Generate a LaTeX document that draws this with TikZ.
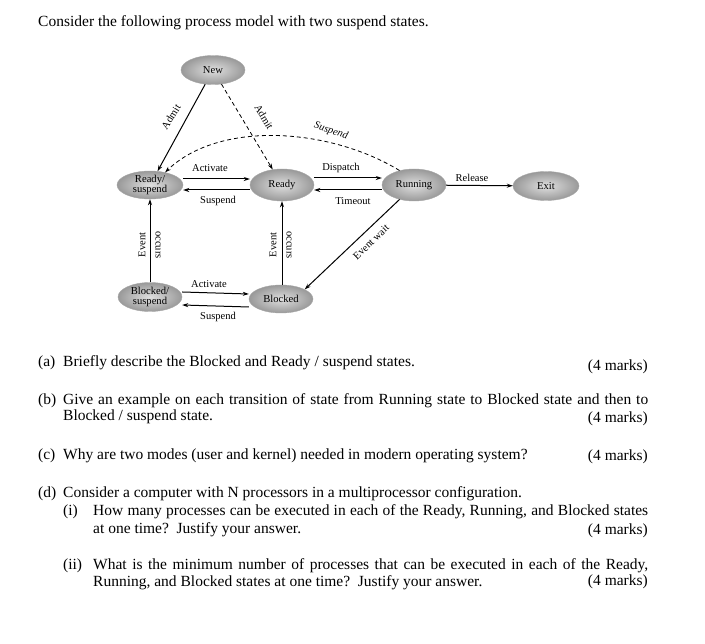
\documentclass[tikz,border=0pt]{standalone}
\usepackage{fontspec}
\setmainfont{Liberation Serif}
\usetikzlibrary{shapes.geometric,arrows.meta}
\tikzset{
  state/.style={ellipse, inner sep=0pt, minimum width=64pt, minimum height=29pt,
    shading=radial, inner color=gray!25, outer color=gray!80, draw=gray!70, line width=0.4pt,
    font=\fontsize{10.6}{10.6}\selectfont, align=center},
  tr/.style={-{Stealth[length=6pt,width=4pt]}, line width=1pt},
  trd/.style={-{Stealth[length=6pt,width=4pt]}, line width=0.8pt, dash pattern=on 4pt off 3pt},
  lab/.style={font=\fontsize{10.5}{10.5}\selectfont, inner sep=0pt},
  qt/.style={font=\fontsize{15.5}{17}\selectfont, inner sep=0pt, anchor=base west},
  mk/.style={font=\fontsize{15.5}{17}\selectfont, inner sep=0pt, anchor=base east},
}
\begin{document}
\begin{tikzpicture}[x=1pt,y=-1pt]
\useasboundingbox[fill=white] (0,0) rectangle (705,644);
% title
\node[qt] (title) at (38,27) {Consider the following process model with two suspend states.};
% states
\node[state] (new) at (213,70) {New};
\node[state, minimum width=66pt, minimum height=28pt] (rs) at (150,185) {Ready/\\[-1pt]suspend};
\node[state, minimum height=32pt] (ready) at (282,185) {Ready};
\node[state, minimum height=32pt] (run) at (414,185) {Running};
\node[state, minimum width=66pt] (exit) at (546,186) {Exit};
\node[state, minimum height=29pt] (bs) at (150,297) {Blocked/\\[-1pt]suspend};
\node[state, minimum height=28pt] (blk) at (281,299) {Blocked};
% transitions
\draw[tr] (new) -- (rs);
\node[lab, rotate=58] (ad1) at (171,117) {Admit};
\draw[trd] (new) -- (ready);
\node[lab, rotate=-59] (ad2) at (264,117) {Admit};
\draw[trd] (run.135) .. controls (330,128) and (220,120) .. (rs.40);
\node[lab, rotate=-18] (suslab) at (331,131) {\itshape Suspend};
\draw[tr] ([yshift=6pt]rs.east) -- ([yshift=6pt]ready.west);
\node[lab] (act1) at (210,168) {Activate};
\draw[tr] ([yshift=-5pt]ready.west) -- ([yshift=-5pt]rs.east);
\node[lab] (sus1) at (218,201) {Suspend};
\draw[tr] ([yshift=7pt]ready.east) -- ([yshift=7pt]run.west);
\node[lab] (disp) at (341,168) {Dispatch};
\draw[tr] ([yshift=-5pt]run.west) -- ([yshift=-5pt]ready.east);
\node[lab] (tmo) at (353,201) {Timeout};
\draw[tr] (run) -- (exit);
\node[lab] (rel) at (472,178) {Release};
\draw[tr] (run.225) -- (blk.22);
\node[lab, rotate=44] (evw) at (371,242) {Event wait};
\draw[tr] (bs) -- (rs);
\node[lab, rotate=90] (ev1) at (142,245) {Event};
\node[lab, rotate=-90] (oc1) at (158,245) {occurs};
\draw[tr] (blk.north -| ready) -- (ready);
\node[lab, rotate=90] (ev2) at (273,245) {Event};
\node[lab, rotate=-90] (oc2) at (289,245) {occurs};
\draw[tr] ([yshift=5pt]bs.east) -- ([yshift=5pt]blk.west);
\node[lab] (act2) at (209,284) {Activate};
\draw[tr] ([yshift=-8pt]blk.west) -- ([yshift=-8pt]bs.east);
\node[lab] (sus2) at (218,317) {Suspend};
% questions
\node[qt] (qa) at (38,367) {(a)};
\node[qt] (qat) at (63,367) {Briefly describe the Blocked and Ready / suspend states.};
\node[mk] (ma) at (648,371) {(4 marks)};
\node[qt] (qb) at (38,405) {(b)};
\node[qt] (qbt) at (63,405) {\makebox[585pt][s]{Give an example on each transition of state from Running state to Blocked state and then to}};
\node[qt] (qbt2) at (63,421) {Blocked / suspend state.};
\node[mk] (mb) at (648,423) {(4 marks)};
\node[qt] (qc) at (38,460) {(c)};
\node[qt] (qct) at (63,460) {Why are two modes (user and kernel) needed in modern operating system?};
\node[mk] (mc) at (648,461) {(4 marks)};
\node[qt] (qd) at (38,497) {(d)};
\node[qt] (qdt) at (63,497) {Consider a computer with N processors in a multiprocessor configuration.};
\node[qt] (qi) at (63,516) {(i)};
\node[qt] (qit) at (93,516) {\makebox[555pt][s]{How many processes can be executed in each of the Ready, Running, and Blocked states}};
\node[qt] (qit2) at (93,533) {at one time?\ \ Justify your answer.};
\node[mk] (mi) at (648,535) {(4 marks)};
\node[qt] (qii) at (63,569) {(ii)};
\node[qt] (qiit) at (93,569) {\makebox[555pt][s]{What is the minimum number of processes that can be executed in each of the Ready,}};
\node[qt] (qiit2) at (93,586) {Running, and Blocked states at one time?\ \ Justify your answer.};
\node[mk] (mii) at (648,585) {(4 marks)};
\end{tikzpicture}
\end{document}
